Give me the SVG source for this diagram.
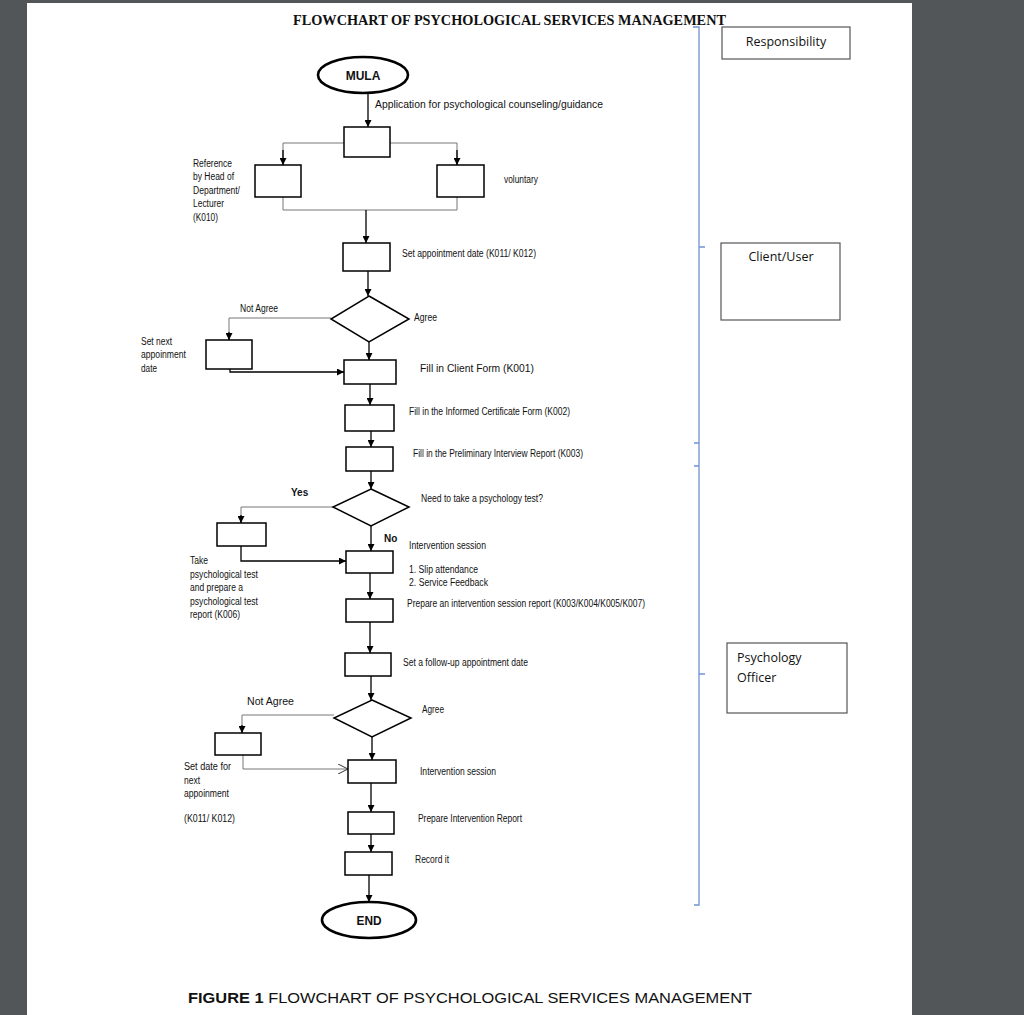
<svg xmlns="http://www.w3.org/2000/svg" width="1024" height="1015" viewBox="0 0 1024 1015">
<style>
.bx{fill:#fff;stroke:#000;stroke-width:1.5}
.ov{fill:#fff;stroke:#000;stroke-width:2.6}
.ln{fill:none;stroke:#000;stroke-width:1.3}
.gl{fill:none;stroke:#777;stroke-width:1}
.t{font-family:"Liberation Sans",Arial,sans-serif;font-size:10px;fill:#111}
.tb{font-family:"Liberation Sans",Arial,sans-serif;font-size:12px;font-weight:bold;fill:#111}
.r{font-family:"Open Sans","Noto Sans","Liberation Sans",sans-serif;font-size:12.5px;fill:#111}
.rb{fill:#fff;stroke:#555;stroke-width:1.2}
.bl{fill:none;stroke:#6f93d0;stroke-width:1.3}
</style>
<defs>
<marker id="ar" viewBox="0 0 10 10" refX="10" refY="5" markerWidth="7" markerHeight="7" markerUnits="userSpaceOnUse" orient="auto">
<path d="M0,0 L10,5 L0,10 z" fill="#000"/>
</marker>
<marker id="ao" viewBox="0 0 10 10" refX="10" refY="5" markerWidth="10" markerHeight="10" markerUnits="userSpaceOnUse" orient="auto">
<path d="M0,0 L10,5 L0,10" fill="none" stroke="#333" stroke-width="1"/>
</marker>
</defs>
<rect x="0" y="0" width="1024" height="1015" fill="#525659"/>
<rect x="27" y="3" width="885" height="1012" fill="#fff"/>
<text x="293" y="25" textLength="433" lengthAdjust="spacingAndGlyphs" font-family="'Liberation Serif','Times New Roman',serif" font-weight="bold" font-size="14.5" fill="#111">FLOWCHART OF PSYCHOLOGICAL SERVICES MANAGEMENT</text>

<g id="responsibility">
<path class="bl" d="M693,27 H699 V905 H694 M699,247 H705 M699,443 H694 M699,466 H694 M699,674 H705"/>
<g id="resp-header"><rect class="rb" x="722" y="27" width="128" height="32"/><text class="r" x="786" y="46" text-anchor="middle">Responsibility</text></g>
<g id="resp-client"><rect class="rb" x="721" y="243" width="119" height="77"/><text class="r" x="781" y="261" text-anchor="middle">Client/User</text></g>
<g id="resp-officer"><rect class="rb" x="727" y="643" width="120" height="70"/><text class="r" x="737" y="662">Psychology</text><text class="r" x="737" y="682">Officer</text></g>
</g>

<g id="connectors">
<path class="ln" d="M368,93 V127" marker-end="url(#ar)"/>
<path class="gl" d="M344,143 H283 V165"/>
<path class="ln" d="M283,150 V165" marker-end="url(#ar)"/>
<path class="gl" d="M390,143 H457 V165"/>
<path class="ln" d="M457,150 V165" marker-end="url(#ar)"/>
<path class="gl" d="M283,197 V210 H457 V197"/>
<path class="ln" d="M366,210 V243" marker-end="url(#ar)"/>
<path class="ln" d="M368,271 V296" marker-end="url(#ar)"/>
<path class="gl" d="M331,318 H229 V340"/>
<path class="ln" d="M229,332 V340" marker-end="url(#ar)"/>
<path class="ln" d="M369,342 V360" marker-end="url(#ar)"/>
<path class="ln" d="M230,369 V372 H344" marker-end="url(#ar)"/>
<path class="ln" d="M370,384 V405" marker-end="url(#ar)"/>
<path class="ln" d="M371,431 V447" marker-end="url(#ar)"/>
<path class="ln" d="M371,471 V489" marker-end="url(#ar)"/>
<path class="gl" d="M333,507 H241 V523"/>
<path class="ln" d="M241,515 V523" marker-end="url(#ar)"/>
<path class="ln" d="M371,526 V551" marker-end="url(#ar)"/>
<path class="ln" d="M241,546 V561 H346" marker-end="url(#ar)"/>
<path class="ln" d="M370,573 V599" marker-end="url(#ar)"/>
<path class="ln" d="M370,622 V653" marker-end="url(#ar)"/>
<path class="ln" d="M371,676 V700" marker-end="url(#ar)"/>
<path class="gl" d="M334,715 H242 V733"/>
<path class="ln" d="M242,725 V733" marker-end="url(#ar)"/>
<path class="ln" d="M372,737 V760" marker-end="url(#ar)"/>
<path class="gl" d="M243,755 V769 H348" marker-end="url(#ao)"/>
<path class="ln" d="M371,783 V812" marker-end="url(#ar)"/>
<path class="ln" d="M371,834 V852" marker-end="url(#ar)"/>
<path class="ln" d="M369,875 V902" marker-end="url(#ar)"/>
</g>

<g id="start"><ellipse class="ov" cx="363" cy="75" rx="45" ry="18"/><text class="tb" x="363" y="80" text-anchor="middle">MULA</text></g>
<text class="t" x="375" y="108" textLength="228" lengthAdjust="spacingAndGlyphs">Application for psychological counseling/guidance</text>
<g id="n-application"><rect class="bx" x="344" y="127" width="46" height="30"/></g>
<g id="n-reference"><rect class="bx" x="255" y="165" width="46" height="32"/>
<text class="t" x="193" y="167" textLength="39" lengthAdjust="spacingAndGlyphs">Reference</text>
<text class="t" x="193" y="180" textLength="41" lengthAdjust="spacingAndGlyphs">by Head of</text>
<text class="t" x="193" y="194" textLength="47" lengthAdjust="spacingAndGlyphs">Department/</text>
<text class="t" x="193" y="207" textLength="31" lengthAdjust="spacingAndGlyphs">Lecturer</text>
<text class="t" x="193" y="221" textLength="25" lengthAdjust="spacingAndGlyphs">(K010)</text></g>
<g id="n-voluntary"><rect class="bx" x="437" y="165" width="47" height="32"/><text class="t" x="504" y="183" textLength="34" lengthAdjust="spacingAndGlyphs">voluntary</text></g>
<g id="n-setappt"><rect class="bx" x="343" y="243" width="47" height="28"/><text class="t" x="402" y="257" textLength="134" lengthAdjust="spacingAndGlyphs">Set appointment date (K011/ K012)</text></g>
<g id="d-agree1"><path class="bx" d="M369,296 L409,319 L369,342 L331,319 Z"/><text class="t" x="414" y="321" textLength="23" lengthAdjust="spacingAndGlyphs">Agree</text><text class="t" x="240" y="312" textLength="38" lengthAdjust="spacingAndGlyphs">Not Agree</text></g>
<g id="n-nextappt"><rect class="bx" x="206" y="340" width="46" height="29"/>
<text class="t" x="141" y="345" textLength="31" lengthAdjust="spacingAndGlyphs">Set next</text>
<text class="t" x="141" y="358" textLength="45" lengthAdjust="spacingAndGlyphs">appoinment</text>
<text class="t" x="141" y="372" textLength="16" lengthAdjust="spacingAndGlyphs">date</text></g>
<g id="n-clientform"><rect class="bx" x="344" y="360" width="52" height="24"/><text class="t" x="420" y="372" textLength="114" lengthAdjust="spacingAndGlyphs" style="font-size:10.5px">Fill in Client Form (K001)</text></g>
<g id="n-k002"><rect class="bx" x="345" y="405" width="49" height="26"/><text class="t" x="409" y="415" textLength="161" lengthAdjust="spacingAndGlyphs">Fill in the Informed Certificate Form (K002)</text></g>
<g id="n-k003"><rect class="bx" x="346" y="447" width="47" height="24"/><text class="t" x="413" y="457" textLength="170" lengthAdjust="spacingAndGlyphs">Fill in the Preliminary Interview Report (K003)</text></g>
<g id="d-test"><path class="bx" d="M371,489 L409,507 L371,526 L333,507 Z"/><text class="t" x="421" y="502" textLength="122" lengthAdjust="spacingAndGlyphs">Need to take a psychology test?</text>
<text class="tb" x="291" y="496" style="font-size:10px">Yes</text><text class="tb" x="384" y="542" style="font-size:10px">No</text></g>
<g id="n-test"><rect class="bx" x="217" y="523" width="49" height="23"/>
<text class="t" x="190" y="564" textLength="18" lengthAdjust="spacingAndGlyphs">Take</text>
<text class="t" x="190" y="578" textLength="68" lengthAdjust="spacingAndGlyphs">psychological test</text>
<text class="t" x="190" y="591" textLength="53" lengthAdjust="spacingAndGlyphs">and prepare a</text>
<text class="t" x="190" y="605" textLength="68" lengthAdjust="spacingAndGlyphs">psychological test</text>
<text class="t" x="190" y="618" textLength="50" lengthAdjust="spacingAndGlyphs">report (K006)</text></g>
<g id="n-session1"><rect class="bx" x="346" y="551" width="47" height="22"/>
<text class="t" x="409" y="549" textLength="77" lengthAdjust="spacingAndGlyphs">Intervention session</text>
<text class="t" x="409" y="573" textLength="69" lengthAdjust="spacingAndGlyphs">1. Slip attendance</text>
<text class="t" x="409" y="586" textLength="79" lengthAdjust="spacingAndGlyphs">2. Service Feedback</text></g>
<g id="n-report1"><rect class="bx" x="346" y="599" width="47" height="23"/><text class="t" x="407" y="607" textLength="238" lengthAdjust="spacingAndGlyphs">Prepare an intervention session report (K003/K004/K005/K007)</text></g>
<g id="n-followup"><rect class="bx" x="345" y="653" width="46" height="23"/><text class="t" x="403" y="666" textLength="125" lengthAdjust="spacingAndGlyphs">Set a follow-up appointment date</text></g>
<g id="d-agree2"><path class="bx" d="M372,700 L411,718 L372,737 L334,718 Z"/><text class="t" x="422" y="713" textLength="22" lengthAdjust="spacingAndGlyphs">Agree</text><text class="t" x="247" y="705" textLength="47" lengthAdjust="spacingAndGlyphs" style="font-size:11px">Not Agree</text></g>
<g id="n-nextdate"><rect class="bx" x="215" y="733" width="46" height="22"/>
<text class="t" x="184" y="770" textLength="47" lengthAdjust="spacingAndGlyphs">Set date for</text>
<text class="t" x="184" y="784" textLength="16" lengthAdjust="spacingAndGlyphs">next</text>
<text class="t" x="184" y="797" textLength="45" lengthAdjust="spacingAndGlyphs">appoinment</text>
<text class="t" x="184" y="822" textLength="51" lengthAdjust="spacingAndGlyphs">(K011/ K012)</text></g>
<g id="n-session2"><rect class="bx" x="348" y="760" width="48" height="23"/><text class="t" x="420" y="775" textLength="76" lengthAdjust="spacingAndGlyphs">Intervention session</text></g>
<g id="n-report2"><rect class="bx" x="348" y="812" width="46" height="22"/><text class="t" x="418" y="822" textLength="104" lengthAdjust="spacingAndGlyphs">Prepare Intervention Report</text></g>
<g id="n-record"><rect class="bx" x="345" y="852" width="47" height="23"/><text class="t" x="415" y="863" textLength="34" lengthAdjust="spacingAndGlyphs">Record it</text></g>
<g id="end"><ellipse class="ov" cx="369" cy="920" rx="47" ry="18"/><text class="tb" x="369" y="925" text-anchor="middle" textLength="25" lengthAdjust="spacingAndGlyphs">END</text></g>

<text x="188" y="1003" textLength="564" lengthAdjust="spacingAndGlyphs" font-family="'Liberation Sans',Arial,sans-serif" font-size="15.5" fill="#111"><tspan font-weight="bold">FIGURE 1</tspan> FLOWCHART OF PSYCHOLOGICAL SERVICES MANAGEMENT</text>
</svg>
